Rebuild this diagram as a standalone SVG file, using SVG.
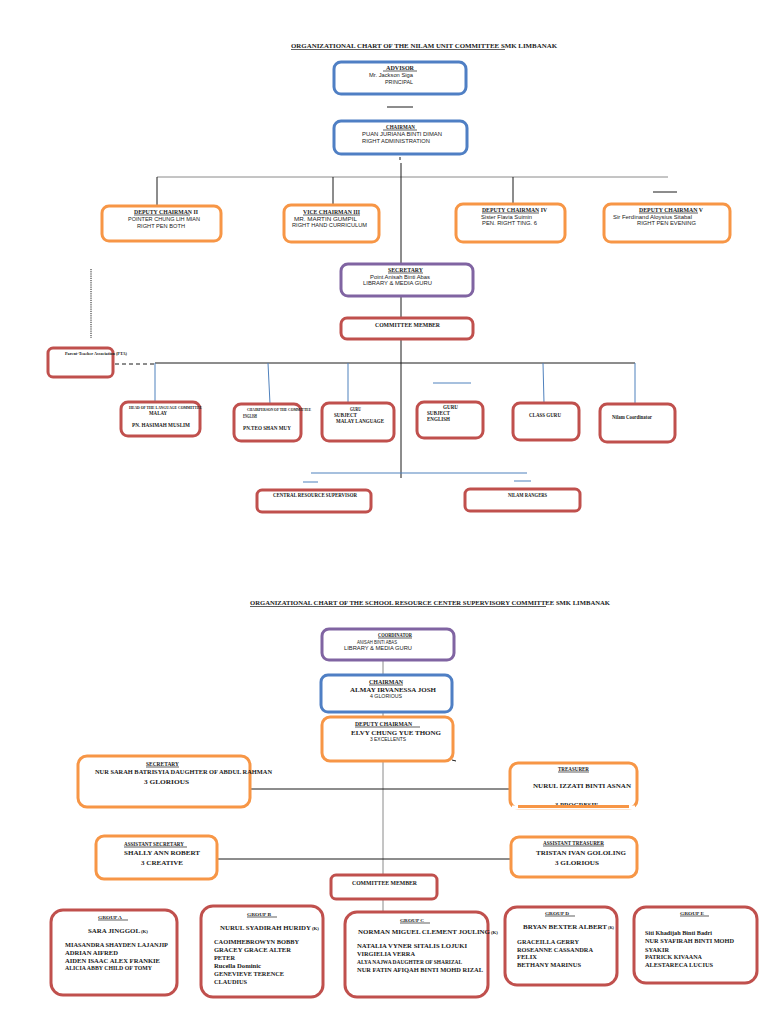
<svg xmlns="http://www.w3.org/2000/svg" width="768" height="1024" viewBox="0 0 768 1024">
<style>
.b{fill:#fff;stroke-width:3}
.blue{stroke:#4f7fc4}
.orange{stroke:#f79646}
.purple{stroke:#8064a2}
.red{stroke:#c0504d}
text{fill:#1a1a1a}
.h{font-family:"Liberation Serif",serif;font-weight:bold;font-size:5.5px}
.hb{font-family:"Liberation Serif",serif;font-weight:bold;font-size:7px}
.hm{font-family:"Liberation Serif",serif;font-weight:bold;font-size:6px}
.tiny{font-family:"Liberation Serif",serif;font-weight:bold;font-size:3px}
.s{font-family:"Liberation Sans",sans-serif;font-size:5.5px}
.u{stroke:#1a1a1a;stroke-width:0.7}
.k{stroke:#1a1a1a;stroke-width:1;fill:none}
.g{stroke:#8a8a8a;stroke-width:1;fill:none}
.bl{stroke:#4f81bd;stroke-width:1;fill:none}
</style>
<rect width="768" height="1024" fill="#fff"/>

<g id="connectors">
<line class="k" x1="387" y1="107" x2="413" y2="107"/>
<line class="k" x1="400" y1="157" x2="400" y2="160"/>
<line class="g" x1="157" y1="177" x2="668" y2="177"/>
<line class="k" x1="401" y1="163" x2="401" y2="478" stroke="#333"/>
<line class="k" x1="157" y1="177" x2="157" y2="205"/>
<line class="k" x1="333" y1="177" x2="333" y2="204"/>
<line class="k" x1="513" y1="177" x2="513" y2="203"/>
<line class="k" x1="653" y1="192" x2="677" y2="192"/>
<line class="k" x1="91" y1="269" x2="91" y2="338" stroke-dasharray="1.2,1"/>
<line class="k" x1="115" y1="364" x2="155" y2="364" stroke-dasharray="4,3"/>
<line class="k" x1="155" y1="363" x2="635" y2="363" stroke="#555"/>
<line class="bl" x1="155" y1="363" x2="155" y2="402"/>
<line class="bl" x1="268" y1="363" x2="270" y2="404"/>
<line class="bl" x1="348" y1="363" x2="348" y2="403"/>
<line class="bl" x1="543" y1="363" x2="544" y2="403"/>
<line class="bl" x1="635" y1="363" x2="635" y2="404"/>
<line class="bl" x1="433" y1="383" x2="471" y2="383"/>
<line class="bl" x1="311" y1="473" x2="527" y2="473"/>
<line class="bl" x1="303" y1="482" x2="318" y2="482" stroke-width="1.5"/>
<line class="bl" x1="514" y1="481" x2="531" y2="481" stroke-width="1.2"/>
<line class="g" x1="383" y1="660" x2="383" y2="675"/>
<line class="g" x1="383" y1="712" x2="383" y2="717"/>
<line class="g" x1="383" y1="761" x2="383" y2="912" stroke-width="1.3"/>
<line class="k" x1="452" y1="760" x2="456" y2="761"/>
<line class="k" x1="250" y1="789" x2="509" y2="789"/>
<line class="k" x1="217" y1="859" x2="510" y2="859"/>
</g>

<g id="title1">
<text class="hm" x="291" y="48" textLength="266" lengthAdjust="spacingAndGlyphs">ORGANIZATIONAL CHART OF THE NILAM UNIT COMMITTEE SMK LIMBANAK</text>
<line class="u" x1="291" y1="49.5" x2="505" y2="49.5"/>
</g>

<g id="advisor">
<rect class="b blue" x="334" y="62" width="132" height="32" rx="7"/>
<text class="h" x="386" y="70" textLength="28" lengthAdjust="spacingAndGlyphs">ADVISOR</text>
<line class="u" x1="383" y1="71" x2="417" y2="71"/>
<text class="s" x="369" y="77" textLength="44" lengthAdjust="spacingAndGlyphs">Mr. Jackson Siga</text>
<text class="s" x="385" y="84" textLength="28" lengthAdjust="spacingAndGlyphs">PRINCIPAL</text>
</g>

<g id="chairman">
<rect class="b blue" x="334" y="121" width="133" height="33" rx="7"/>
<text class="h" x="386" y="129" textLength="29" lengthAdjust="spacingAndGlyphs">CHAIRMAN</text>
<line class="u" x1="383" y1="130" x2="417" y2="130"/>
<text class="s" x="362" y="136" textLength="80" lengthAdjust="spacingAndGlyphs">PUAN JURIANA BINTI DIMAN</text>
<text class="s" x="362" y="143" textLength="68" lengthAdjust="spacingAndGlyphs">RIGHT ADMINISTRATION</text>
</g>

<g id="deputy-chairman-2">
<rect class="b orange" x="102" y="206" width="119" height="35" rx="7"/>
<text class="h" x="134" y="214" textLength="64" lengthAdjust="spacingAndGlyphs">DEPUTY CHAIRMAN II</text>
<line class="u" x1="134" y1="215" x2="190" y2="215"/>
<text class="s" x="128" y="221" textLength="72" lengthAdjust="spacingAndGlyphs">POINTER CHUNG LIH MIAN</text>
<text class="s" x="137" y="228" textLength="48" lengthAdjust="spacingAndGlyphs">RIGHT PEN BOTH</text>
</g>

<g id="vice-chairman-3">
<rect class="b orange" x="284" y="205" width="95" height="37" rx="7"/>
<text class="h" x="303" y="214" textLength="57" lengthAdjust="spacingAndGlyphs">VICE CHAIRMAN III</text>
<line class="u" x1="303" y1="215" x2="360" y2="215"/>
<text class="s" x="294" y="220.5" textLength="63" lengthAdjust="spacingAndGlyphs">MR. MARTIN GUMPIL</text>
<text class="s" x="292" y="227" textLength="75" lengthAdjust="spacingAndGlyphs">RIGHT HAND CURRICULUM</text>
</g>

<g id="deputy-chairman-4">
<rect class="b orange" x="456" y="204" width="109" height="38" rx="7"/>
<text class="h" x="482" y="212" textLength="65" lengthAdjust="spacingAndGlyphs">DEPUTY CHAIRMAN IV</text>
<line class="u" x1="482" y1="213" x2="539" y2="213"/>
<text class="s" x="481" y="219" textLength="51" lengthAdjust="spacingAndGlyphs">Sister Flavia Suimin</text>
<text class="s" x="482" y="225" textLength="55" lengthAdjust="spacingAndGlyphs">PEN. RIGHT TING. 6</text>
</g>

<g id="deputy-chairman-5">
<rect class="b orange" x="604" y="204" width="126" height="38" rx="7"/>
<text class="h" x="639" y="212" textLength="64" lengthAdjust="spacingAndGlyphs">DEPUTY CHAIRMAN V</text>
<line class="u" x1="639" y1="213" x2="698" y2="213"/>
<text class="s" x="613" y="219" textLength="79" lengthAdjust="spacingAndGlyphs">Sir Ferdinand Aloysius Sitabal</text>
<text class="s" x="637" y="225" textLength="59" lengthAdjust="spacingAndGlyphs">RIGHT PEN EVENING</text>
</g>

<g id="secretary">
<rect class="b purple" x="341" y="264" width="132" height="32" rx="7"/>
<text class="h" x="388" y="272" textLength="35" lengthAdjust="spacingAndGlyphs">SECRETARY</text>
<line class="u" x1="388" y1="273" x2="423" y2="273"/>
<text class="s" x="370" y="279" textLength="60" lengthAdjust="spacingAndGlyphs">Point Anisah Binti Abas</text>
<text class="s" x="363" y="285" textLength="69" lengthAdjust="spacingAndGlyphs">LIBRARY &amp; MEDIA GURU</text>
</g>

<g id="committee-member">
<rect class="b red" x="341" y="318" width="132" height="21" rx="6"/>
<text class="h" x="375" y="327" textLength="65" lengthAdjust="spacingAndGlyphs">COMMITTEE MEMBER</text>
</g>

<g id="pta">
<rect class="b red" x="48" y="348" width="65" height="29" rx="5"/>
<text class="tiny" x="65" y="355" textLength="62" lengthAdjust="spacingAndGlyphs">Parent-Teacher Association (PTA)</text>
</g>

<g id="head-language">
<rect class="b red" x="121" y="402" width="79" height="34" rx="7"/>
<text class="tiny" x="129" y="408.5" textLength="73" lengthAdjust="spacingAndGlyphs">HEAD OF THE LANGUAGE COMMITTEE</text>
<text class="h" x="149" y="415" textLength="18" lengthAdjust="spacingAndGlyphs">MALAY</text>
<text class="h" x="132" y="427" textLength="58" lengthAdjust="spacingAndGlyphs">PN. HASIMAH MUSLIM</text>
</g>

<g id="chairperson">
<rect class="b red" x="234" y="404" width="67" height="37" rx="7"/>
<text class="tiny" x="247" y="411" textLength="64" lengthAdjust="spacingAndGlyphs">CHAIRPERSON OF THE COMMITTEE</text>
<text class="h" x="243" y="418" textLength="14" lengthAdjust="spacingAndGlyphs">ENGLISH</text>
<text class="h" x="243" y="430" textLength="48" lengthAdjust="spacingAndGlyphs">PN.TEO SHAN MUY</text>
</g>

<g id="guru-malay">
<rect class="b red" x="322" y="403" width="72" height="38" rx="7"/>
<text class="h" x="350" y="411" textLength="11" lengthAdjust="spacingAndGlyphs">GURU</text>
<text class="h" x="334" y="417" textLength="23" lengthAdjust="spacingAndGlyphs">SUBJECT</text>
<text class="h" x="336" y="423" textLength="48" lengthAdjust="spacingAndGlyphs">MALAY LANGUAGE</text>
</g>

<g id="guru-english">
<rect class="b red" x="417" y="402" width="66" height="36" rx="7"/>
<text class="h" x="443" y="409" textLength="15" lengthAdjust="spacingAndGlyphs">GURU</text>
<text class="h" x="427" y="415" textLength="23" lengthAdjust="spacingAndGlyphs">SUBJECT</text>
<text class="h" x="427" y="421" textLength="23" lengthAdjust="spacingAndGlyphs">ENGLISH</text>
</g>

<g id="class-guru">
<rect class="b red" x="513" y="403" width="66" height="37" rx="7"/>
<text class="h" x="529" y="417" textLength="32" lengthAdjust="spacingAndGlyphs">CLASS GURU</text>
</g>

<g id="nilam-coordinator">
<rect class="b red" x="600" y="404" width="75" height="38" rx="7"/>
<text class="h" x="612" y="419" textLength="40" lengthAdjust="spacingAndGlyphs">Nilam Coordinator</text>
</g>

<g id="central-resource-supervisor">
<rect class="b red" x="257" y="490" width="114" height="22" rx="5"/>
<text class="h" x="273" y="497" textLength="84" lengthAdjust="spacingAndGlyphs">CENTRAL RESOURCE SUPERVISOR</text>
</g>

<g id="nilam-rangers">
<rect class="b red" x="465" y="489" width="115" height="22" rx="5"/>
<text class="h" x="508" y="497" textLength="39" lengthAdjust="spacingAndGlyphs">NILAM RANGERS</text>
</g>

<g id="title2">
<text class="hm" x="250" y="605" textLength="360" lengthAdjust="spacingAndGlyphs">ORGANIZATIONAL CHART OF THE SCHOOL RESOURCE CENTER SUPERVISORY COMMITTEE SMK LIMBANAK</text>
<line class="u" x1="250" y1="606.5" x2="546" y2="606.5"/>
</g>

<g id="coordinator">
<rect class="b purple" x="322" y="629" width="132" height="31" rx="7"/>
<text class="h" x="378" y="637" textLength="34" lengthAdjust="spacingAndGlyphs">COORDINATOR</text>
<line class="u" x1="378" y1="638" x2="412" y2="638"/>
<text class="s" x="357" y="643.5" textLength="40" lengthAdjust="spacingAndGlyphs">ANISAH BINTI ABAS</text>
<text class="s" x="344" y="650" textLength="68" lengthAdjust="spacingAndGlyphs">LIBRARY &amp; MEDIA GURU</text>
</g>

<g id="chairman-2">
<rect class="b blue" x="321" y="675" width="131" height="37" rx="7"/>
<text class="h" x="369" y="684" textLength="34" lengthAdjust="spacingAndGlyphs">CHAIRMAN</text>
<line class="u" x1="369" y1="685" x2="403" y2="685"/>
<text class="hb" x="350" y="692" textLength="86" lengthAdjust="spacingAndGlyphs">ALMAY IRVANESSA JOSH</text>
<text class="s" x="370" y="698" textLength="32" lengthAdjust="spacingAndGlyphs">4 GLORIOUS</text>
</g>

<g id="deputy-chairman">
<rect class="b orange" x="322" y="717" width="131" height="44" rx="8"/>
<text class="h" x="355" y="726" textLength="57" lengthAdjust="spacingAndGlyphs">DEPUTY CHAIRMAN</text>
<line class="u" x1="355" y1="727" x2="420" y2="727"/>
<text class="hb" x="351" y="735" textLength="90" lengthAdjust="spacingAndGlyphs">ELVY CHUNG YUE THONG</text>
<text class="s" x="370" y="741" textLength="36" lengthAdjust="spacingAndGlyphs">3 EXCELLENTS</text>
</g>

<g id="secretary-2">
<rect class="b orange" x="78" y="756" width="172" height="51" rx="9"/>
<text class="h" x="146" y="766" textLength="33" lengthAdjust="spacingAndGlyphs">SECRETARY</text>
<line class="u" x1="146" y1="767" x2="179" y2="767"/>
<text class="hm" x="95" y="774" textLength="177" lengthAdjust="spacingAndGlyphs">NUR SARAH BATRISYIA DAUGHTER OF ABDUL RAHMAN</text>
<text class="hb" x="144" y="784" textLength="45" lengthAdjust="spacingAndGlyphs">3 GLORIOUS</text>
</g>

<g id="treasurer">
<rect class="b orange" x="510" y="763" width="127" height="45" rx="8"/>
<text class="h" x="558" y="771" textLength="31" lengthAdjust="spacingAndGlyphs">TREASURER</text>
<line class="u" x1="558" y1="772" x2="589" y2="772"/>
<text class="hm" x="533" y="788" textLength="98" lengthAdjust="spacingAndGlyphs">NURUL IZZATI BINTI ASNAN</text>
<text class="h" x="555" y="807" textLength="43" lengthAdjust="spacingAndGlyphs">3 PROGRESIF</text>
<rect x="512" y="805.5" width="123" height="4" fill="#fff"/>
<line x1="518" y1="806.5" x2="629" y2="806.5" stroke="#f79646" stroke-width="3"/>
</g>

<g id="assistant-secretary">
<rect class="b orange" x="96" y="836" width="121" height="43" rx="8"/>
<text class="h" x="124" y="846" textLength="60" lengthAdjust="spacingAndGlyphs">ASSISTANT SECRETARY</text>
<line class="u" x1="124" y1="847" x2="187" y2="847"/>
<text class="hm" x="124" y="855" textLength="76" lengthAdjust="spacingAndGlyphs">SHALLY ANN ROBERT</text>
<text class="hm" x="141" y="865" textLength="42" lengthAdjust="spacingAndGlyphs">3 CREATIVE</text>
</g>

<g id="assistant-treasurer">
<rect class="b orange" x="511" y="837" width="126" height="40" rx="8"/>
<text class="h" x="543" y="845" textLength="61" lengthAdjust="spacingAndGlyphs">ASSISTANT TREASURER</text>
<line class="u" x1="543" y1="846" x2="604" y2="846"/>
<text class="hm" x="536" y="855" textLength="90" lengthAdjust="spacingAndGlyphs">TRISTAN IVAN GOLOLING</text>
<text class="hm" x="555" y="865" textLength="44" lengthAdjust="spacingAndGlyphs">3 GLORIOUS</text>
</g>

<g id="committee-member-2">
<rect class="b red" x="331" y="875" width="106" height="24" rx="5"/>
<text class="h" x="352" y="885" textLength="65" lengthAdjust="spacingAndGlyphs">COMMITTEE MEMBER</text>
</g>

<g id="group-a">
<rect class="b red" x="51" y="910" width="126" height="85" rx="12"/>
<text class="tiny" x="98" y="919" textLength="24" lengthAdjust="spacingAndGlyphs">GROUP A</text>
<line class="u" x1="98" y1="920" x2="128" y2="920"/>
<text class="hm" x="88" y="933" textLength="52" lengthAdjust="spacingAndGlyphs">SARA JINGGOL</text>
<text class="tiny" x="141" y="933" textLength="7" lengthAdjust="spacingAndGlyphs">(K)</text>
<text class="h" x="65" y="947" textLength="103" lengthAdjust="spacingAndGlyphs">MIASANDRA SHAYDEN LAJANJIP</text>
<text class="h" x="65" y="955" textLength="53" lengthAdjust="spacingAndGlyphs">ADRIAN AIFRED</text>
<text class="h" x="65" y="962.5" textLength="95" lengthAdjust="spacingAndGlyphs">AIDEN ISAAC ALEX FRANKIE</text>
<text class="h" x="65" y="970" textLength="87" lengthAdjust="spacingAndGlyphs" font-size="4.6">ALICIA ABBY CHILD OF TOMY</text>
</g>

<g id="group-b">
<rect class="b red" x="201" y="906" width="122" height="91" rx="12"/>
<text class="tiny" x="247" y="916" textLength="24" lengthAdjust="spacingAndGlyphs">GROUP B</text>
<line class="u" x1="247" y1="917" x2="277" y2="917"/>
<text class="hm" x="220" y="930" textLength="91" lengthAdjust="spacingAndGlyphs">NURUL SYADIRAH HURIDY</text>
<text class="tiny" x="312" y="930" textLength="7" lengthAdjust="spacingAndGlyphs">(K)</text>
<text class="h" x="214" y="944" textLength="85" lengthAdjust="spacingAndGlyphs">CAOIMHEBROWYN BOBBY</text>
<text class="h" x="214" y="952" textLength="77" lengthAdjust="spacingAndGlyphs">GRACEY GRACE ALTER</text>
<text class="h" x="214" y="960" textLength="21" lengthAdjust="spacingAndGlyphs">PETER</text>
<text class="h" x="214" y="967.5" textLength="47" lengthAdjust="spacingAndGlyphs">Rucella Dominic</text>
<text class="h" x="214" y="975.5" textLength="70" lengthAdjust="spacingAndGlyphs">GENEVIEVE TERENCE</text>
<text class="h" x="214" y="983.5" textLength="33" lengthAdjust="spacingAndGlyphs">CLAUDIUS</text>
</g>

<g id="group-c">
<rect class="b red" x="345" y="912" width="143" height="85" rx="12"/>
<text class="tiny" x="400" y="922" textLength="24" lengthAdjust="spacingAndGlyphs">GROUP C</text>
<line class="u" x1="400" y1="923" x2="430" y2="923"/>
<text class="hm" x="358" y="934" textLength="132" lengthAdjust="spacingAndGlyphs">NORMAN MIGUEL CLEMENT JOULING</text>
<text class="tiny" x="491" y="934" textLength="7" lengthAdjust="spacingAndGlyphs">(K)</text>
<text class="h" x="357" y="948" textLength="110" lengthAdjust="spacingAndGlyphs">NATALIA VYNER SITALIS LOJUKI</text>
<text class="h" x="357" y="956" textLength="58" lengthAdjust="spacingAndGlyphs">VIRGIELIA VERRA</text>
<text class="h" x="357" y="963.5" textLength="105" lengthAdjust="spacingAndGlyphs" font-size="4.5">ALYA NAJWA DAUGHTER OF SHARIZAL</text>
<text class="h" x="357" y="971.5" textLength="126" lengthAdjust="spacingAndGlyphs">NUR FATIN AFIQAH BINTI MOHD RIZAL</text>
</g>

<g id="group-d">
<rect class="b red" x="505" y="907" width="112" height="78" rx="12"/>
<text class="tiny" x="545" y="915" textLength="24" lengthAdjust="spacingAndGlyphs">GROUP D</text>
<line class="u" x1="545" y1="916" x2="575" y2="916"/>
<text class="hm" x="523" y="929" textLength="84" lengthAdjust="spacingAndGlyphs">BRYAN BEXTER ALBERT</text>
<text class="tiny" x="608" y="929" textLength="6" lengthAdjust="spacingAndGlyphs">(K)</text>
<text class="h" x="517" y="943.5" textLength="62" lengthAdjust="spacingAndGlyphs">GRACEILLA GERRY</text>
<text class="h" x="517" y="951.5" textLength="76" lengthAdjust="spacingAndGlyphs">ROSEANNE CASSANDRA</text>
<text class="h" x="517" y="959" textLength="20" lengthAdjust="spacingAndGlyphs">FELIX</text>
<text class="h" x="517" y="967" textLength="64" lengthAdjust="spacingAndGlyphs">BETHANY MARINUS</text>
</g>

<g id="group-e">
<rect class="b red" x="634" y="907" width="123" height="76" rx="12"/>
<text class="tiny" x="680" y="915" textLength="24" lengthAdjust="spacingAndGlyphs">GROUP E</text>
<line class="u" x1="680" y1="916" x2="709" y2="916"/>
<text class="h" x="645" y="935" textLength="67" lengthAdjust="spacingAndGlyphs">Siti Khadijah Binti Badri</text>
<text class="h" x="645" y="943" textLength="89" lengthAdjust="spacingAndGlyphs">NUR SYAFIRAH BINTI MOHD</text>
<text class="h" x="645" y="951.5" textLength="24" lengthAdjust="spacingAndGlyphs">SYAKIR</text>
<text class="h" x="645" y="959" textLength="57" lengthAdjust="spacingAndGlyphs">PATRICK KIVAANA</text>
<text class="h" x="645" y="966.5" textLength="68" lengthAdjust="spacingAndGlyphs">ALESTARECA LUCIUS</text>
</g>
</svg>
